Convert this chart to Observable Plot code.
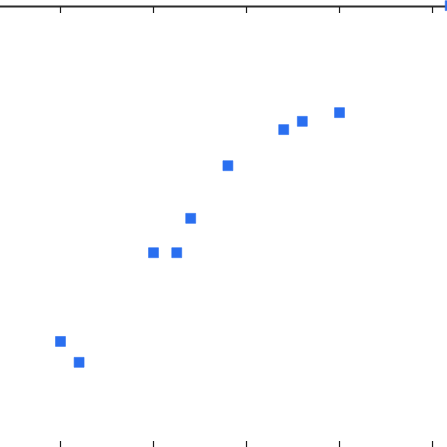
<!DOCTYPE html>
<html>
<head>
<meta charset="utf-8">
<script src="https://cdn.jsdelivr.net/npm/d3@7"></script>
<script src="https://cdn.jsdelivr.net/npm/@observablehq/plot@0.6"></script>
<style>
  html, body { margin: 0; padding: 0; background: #fff; overflow: hidden; }
  #chart svg { display: block; }
</style>
</head>
<body>
<div id="chart"></div>
<script>
// Data
const xValues = [1.0, 1.2, 2.0, 2.25, 2.4, 2.8, 3.4, 3.6, 4.0, 5.19];
const yValues = [23.0, 18.2, 43.4, 43.4, 51.3, 63.4, 71.7, 73.6, 75.6, 100.2];
const xTicks = [1, 2, 3, 4, 5];
const xDomain = [0.355, 5.161];
const yDomain = [0, 100];

const points = xValues.map((x, i) => ({x, y: yValues[i]}));

const chart = Plot.plot({
  width: 447,
  height: 447,
  marginTop: 6,
  marginBottom: 6,
  marginLeft: 0,
  marginRight: 0,
  style: {background: "#fff", color: "#222"},
  x: {domain: xDomain, label: null},
  y: {domain: yDomain, axis: null, label: null},
  marks: [
    Plot.frame({anchor: "top", stroke: "#2b2b2b", strokeWidth: 2}),
    Plot.axisX({anchor: "top", ticks: xTicks, tickSize: -6, tickFormat: () => "", label: null, stroke: "#1a1a1a", strokeWidth: 1.2}),
    Plot.axisX({anchor: "bottom", ticks: xTicks, tickSize: 6, tickFormat: () => "", label: null, stroke: "#1a1a1a", strokeWidth: 1.2}),
    Plot.dot(points, {x: "x", y: "y", symbol: "square", r: 5.6, fill: "#2a6ff0", stroke: "#2a6ff0", strokeWidth: 0.6, strokeLinejoin: "round"})
  ]
});
document.getElementById("chart").append(chart);
</script>
</body>
</html>
